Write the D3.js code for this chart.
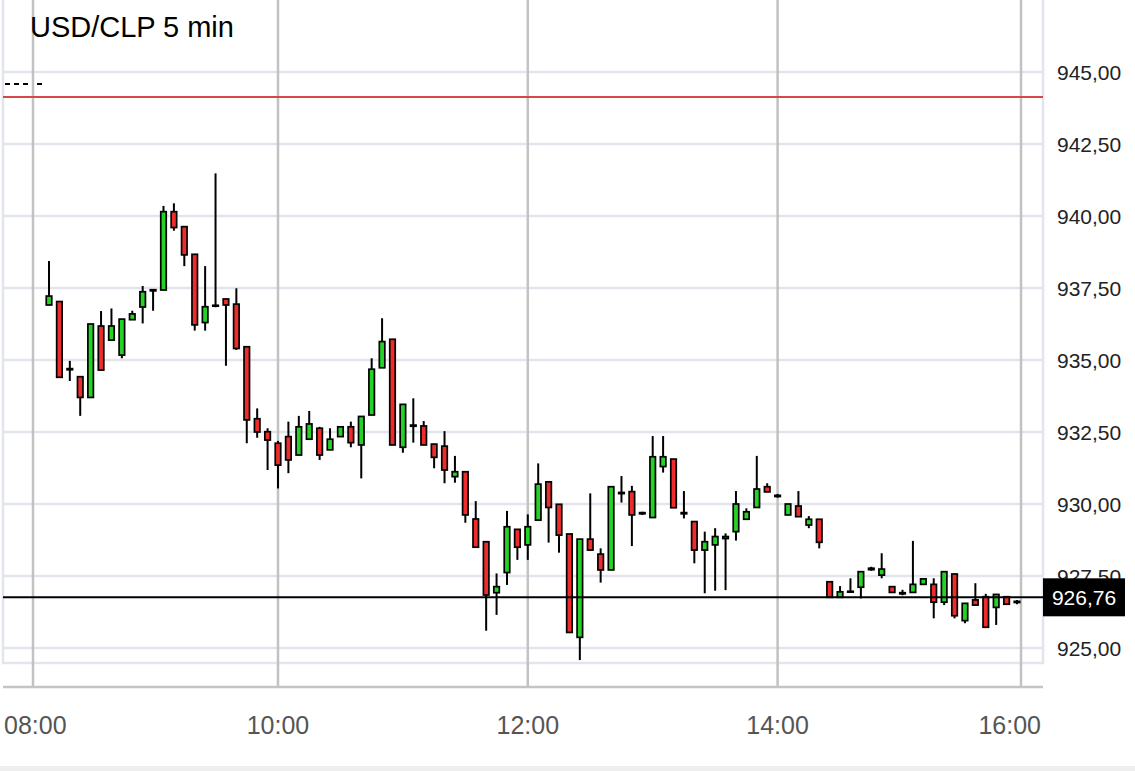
<!DOCTYPE html>
<html><head><meta charset="utf-8">
<script src="https://cdn.jsdelivr.net/npm/d3@7"></script>
<style>html,body{margin:0;padding:0;background:#fff;}svg{display:block;font-family:Arial,"Liberation Sans",sans-serif;}</style>
</head><body>
<script>
// ---- data ----
const times = ["08:10","08:15","08:20","08:25","08:30","08:35","08:40","08:45","08:50","08:55",
"09:00","09:05","09:10","09:15","09:20","09:25","09:30","09:35","09:40","09:45","09:50","09:55",
"10:00","10:05","10:10","10:15","10:20","10:25","10:30","10:35","10:40","10:45","10:50","10:55",
"11:00","11:05","11:10","11:15","11:20","11:25","11:30","11:35","11:40","11:45","11:50","11:55",
"12:00","12:05","12:10","12:15","12:20","12:25","12:30","12:35","12:40","12:45","12:50","12:55",
"13:00","13:05","13:10","13:15","13:20","13:25","13:30","13:35","13:40","13:45","13:50","13:55",
"14:00","14:05","14:10","14:15","14:20","14:25","14:30","14:35","14:40","14:45","14:50","14:55",
"15:00","15:05","15:10","15:15","15:20","15:25","15:30","15:35","15:40","15:45","15:50","15:55"];
const open = [936.91,937.03,934.70,934.42,933.70,936.18,935.69,935.17,936.40,936.84,
937.44,937.43,940.15,939.63,938.67,936.30,936.90,937.12,936.94,935.46,932.96,932.51,
932.11,932.34,931.70,932.25,932.63,931.88,932.34,932.68,932.05,933.09,934.73,935.72,
931.97,932.74,932.71,932.08,932.01,930.95,931.12,929.48,928.69,926.92,927.62,929.12,
928.58,929.44,930.77,929.99,928.96,925.37,928.78,928.26,927.71,930.40,930.43,929.70,
929.53,931.30,931.56,929.70,929.39,928.40,928.58,928.87,929.04,929.47,929.88,930.60,
930.30,929.62,929.93,929.27,929.47,927.30,926.76,926.97,927.11,927.77,927.53,927.13,
926.92,926.93,927.21,927.21,926.59,927.57,925.95,926.67,926.78,926.41,926.78,926.62];
const high = [938.44,937.03,934.97,934.42,936.25,936.70,936.79,936.42,936.71,937.57,
937.46,940.35,940.44,939.63,938.67,938.26,941.48,937.12,937.49,935.46,933.32,932.63,
932.19,932.86,933.06,933.23,932.68,932.63,932.68,932.86,933.04,935.06,936.45,935.72,
933.46,933.67,932.88,932.08,932.53,931.67,931.12,930.10,928.69,927.59,929.76,929.12,
929.64,931.41,930.77,929.99,928.96,928.78,930.37,928.46,930.60,930.97,930.63,929.73,
932.36,932.36,931.56,930.45,929.39,929.04,929.16,928.98,930.45,929.85,931.67,930.72,
930.35,930.00,930.45,929.58,929.47,927.30,927.15,927.42,927.65,927.82,928.29,927.13,
927.02,928.72,927.40,927.42,927.65,927.57,926.55,927.25,926.88,926.86,926.78,926.67];
const low = [936.91,934.40,934.27,933.06,933.70,934.65,935.69,935.06,936.40,936.27,
936.71,937.43,939.49,938.26,936.02,936.02,936.83,934.80,935.35,932.11,932.30,931.18,
930.54,931.07,931.70,932.25,931.53,931.88,932.34,931.97,930.89,933.09,934.73,932.05,
931.78,932.13,932.05,931.24,930.72,930.74,929.35,928.50,925.60,926.15,927.19,928.06,
928.06,929.44,928.66,928.31,925.54,924.58,928.40,927.27,927.71,930.05,928.54,929.62,
929.53,931.09,929.87,929.50,927.94,926.90,926.99,927.01,928.73,929.47,929.88,930.42,
930.22,929.62,929.56,929.16,928.46,926.76,926.76,926.92,926.72,927.68,927.42,926.93,
926.83,926.93,927.21,926.03,926.49,926.03,925.86,926.49,925.72,925.80,926.52,926.52];
const close = [937.22,934.40,934.66,933.70,936.25,934.65,936.18,936.42,936.60,937.37,
937.40,940.15,939.60,938.65,936.22,936.85,936.87,936.91,935.40,932.92,932.50,932.22,
931.35,931.53,932.68,932.78,931.70,932.25,932.68,932.13,933.04,934.68,935.64,932.05,
933.46,932.70,932.05,931.62,931.18,931.12,929.62,928.50,926.84,927.13,929.21,928.50,
929.21,930.69,929.88,928.92,925.54,928.78,928.40,927.71,930.60,930.36,929.62,929.66,
931.64,931.64,929.87,929.66,928.40,928.69,928.87,928.80,930.00,929.73,930.52,930.42,
930.26,930.00,929.56,929.47,928.67,926.76,926.95,926.94,927.65,927.72,927.74,926.93,
926.88,927.21,927.40,926.59,927.65,926.12,926.55,926.49,925.72,926.86,926.52,926.58];
const timeTicks = ["08:00","10:00","12:00","14:00","16:00"];
const priceTicks = [925, 927.5, 930, 932.5, 935, 937.5, 940, 942.5, 945];
const refLevel = 944.13;
const lastPrice = 926.76;
const titleMain = "USD/CLP";
const titleSub = "5 min";

// ---- layout ----
const W = 1135, H = 771;
const parseT = d3.timeParse("%H:%M");
const loc = d3.formatLocale({decimal: ",", thousands: ".", grouping: [3], currency: ["", ""]});
const fmt = loc.format(".2f");

const x = d3.scaleTime()
  .domain([parseT("08:00"), parseT("08:10"), parseT("15:55"), parseT("16:00")])
  .range([33, 49, 1017, 1021]);
const y = d3.scaleLinear().domain([925, 945]).range([648, 72]);

const plotL = 3, plotR = 1043, frameB = 663, axisY = 687;

const svg = d3.select("body").append("svg").attr("width", W).attr("height", H);
svg.append("rect").attr("width", W).attr("height", H).attr("fill", "#fff");

// frame
svg.append("rect").attr("x", plotL).attr("y", -2).attr("width", plotR - plotL).attr("height", frameB + 2)
  .attr("fill", "none").attr("stroke", "#e3e5ec").attr("stroke-width", 2.5);

// horizontal grid
svg.append("g").selectAll("line").data(priceTicks).join("line")
  .attr("x1", plotL).attr("x2", plotR)
  .attr("y1", d => y(d)).attr("y2", d => y(d))
  .attr("stroke", "#e3e5ec").attr("stroke-width", 2.5);

// vertical grid
svg.append("g").selectAll("line").data(timeTicks).join("line")
  .attr("x1", d => x(parseT(d))).attr("x2", d => x(parseT(d)))
  .attr("y1", 0).attr("y2", axisY)
  .attr("stroke", "#c2c2c2").attr("stroke-width", 2.5);

// bottom axis line
svg.append("line").attr("x1", plotL).attr("x2", plotR).attr("y1", axisY).attr("y2", axisY)
  .attr("stroke", "#c4c4c4").attr("stroke-width", 2.5);

// reference red line
svg.append("line").attr("x1", plotL).attr("x2", plotR).attr("y1", y(refLevel)).attr("y2", y(refLevel))
  .attr("stroke", "#d9464a").attr("stroke-width", 2);

// dashed legend mark
svg.append("line").attr("x1", 5).attr("x2", 42).attr("y1", 84).attr("y2", 84)
  .attr("stroke", "#000").attr("stroke-width", 2).attr("stroke-dasharray", "5,4,5,4,5,9,5");

// candles
const data = times.map((t, i) => ({t: parseT(t), o: open[i], h: high[i], l: low[i], c: close[i]}));
const cg = svg.append("g");
const bw = 5.5;
cg.selectAll("line.w").data(data).join("line").attr("class", "w")
  .attr("x1", d => x(d.t)).attr("x2", d => x(d.t))
  .attr("y1", d => y(d.h)).attr("y2", d => y(d.l))
  .attr("stroke", "#000").attr("stroke-width", 2);
cg.selectAll("rect.b").data(data).join("rect").attr("class", "b")
  .attr("x", d => x(d.t) - bw / 2).attr("width", bw)
  .attr("y", d => y(Math.max(d.o, d.c)))
  .attr("height", d => Math.max(0.8, Math.abs(y(d.o) - y(d.c))))
  .attr("fill", d => Math.abs(d.c - d.o) < 0.06 ? "#000" : (d.c > d.o ? "#25d325" : "#ee2c2c"))
  .attr("stroke", "#000").attr("stroke-width", 1.7);

// last price line
svg.append("line").attr("x1", plotL).attr("x2", plotR).attr("y1", y(lastPrice)).attr("y2", y(lastPrice))
  .attr("stroke", "#000").attr("stroke-width", 2);

// y labels
svg.append("g").selectAll("text").data(priceTicks).join("text")
  .attr("x", 1057).attr("y", d => y(d)).attr("dy", "0.36em")
  .attr("font-size", 21).attr("fill", "#222").text(d => fmt(d));

// last price box
svg.append("rect").attr("x", plotR).attr("y", y(lastPrice) - 19).attr("width", 82).attr("height", 38).attr("fill", "#000");
svg.append("text").attr("x", plotR + 41).attr("y", y(lastPrice)).attr("dy", "0.36em")
  .attr("text-anchor", "middle").attr("font-size", 21).attr("fill", "#fff").text(fmt(lastPrice));

// x labels
svg.append("g").selectAll("text").data(timeTicks).join("text")
  .attr("x", (d, i) => i === 0 ? 4 : i === timeTicks.length - 1 ? 1041 : x(parseT(d)))
  .attr("text-anchor", (d, i) => i === 0 ? "start" : i === timeTicks.length - 1 ? "end" : "middle")
  .attr("y", 725).attr("dy", "0.36em")
  .attr("font-size", 25).attr("fill", "#555").text(d => d);

// title
svg.append("text").attr("x", 30).attr("y", 37).attr("font-size", 29).attr("fill", "#000").text(titleMain);
svg.append("text").attr("x", 163).attr("y", 37).attr("font-size", 29).attr("fill", "#000").text(titleSub);

// bottom strip
svg.append("rect").attr("x", 0).attr("y", 766).attr("width", W).attr("height", 5).attr("fill", "#eeeeee");
</script>
</body></html>
